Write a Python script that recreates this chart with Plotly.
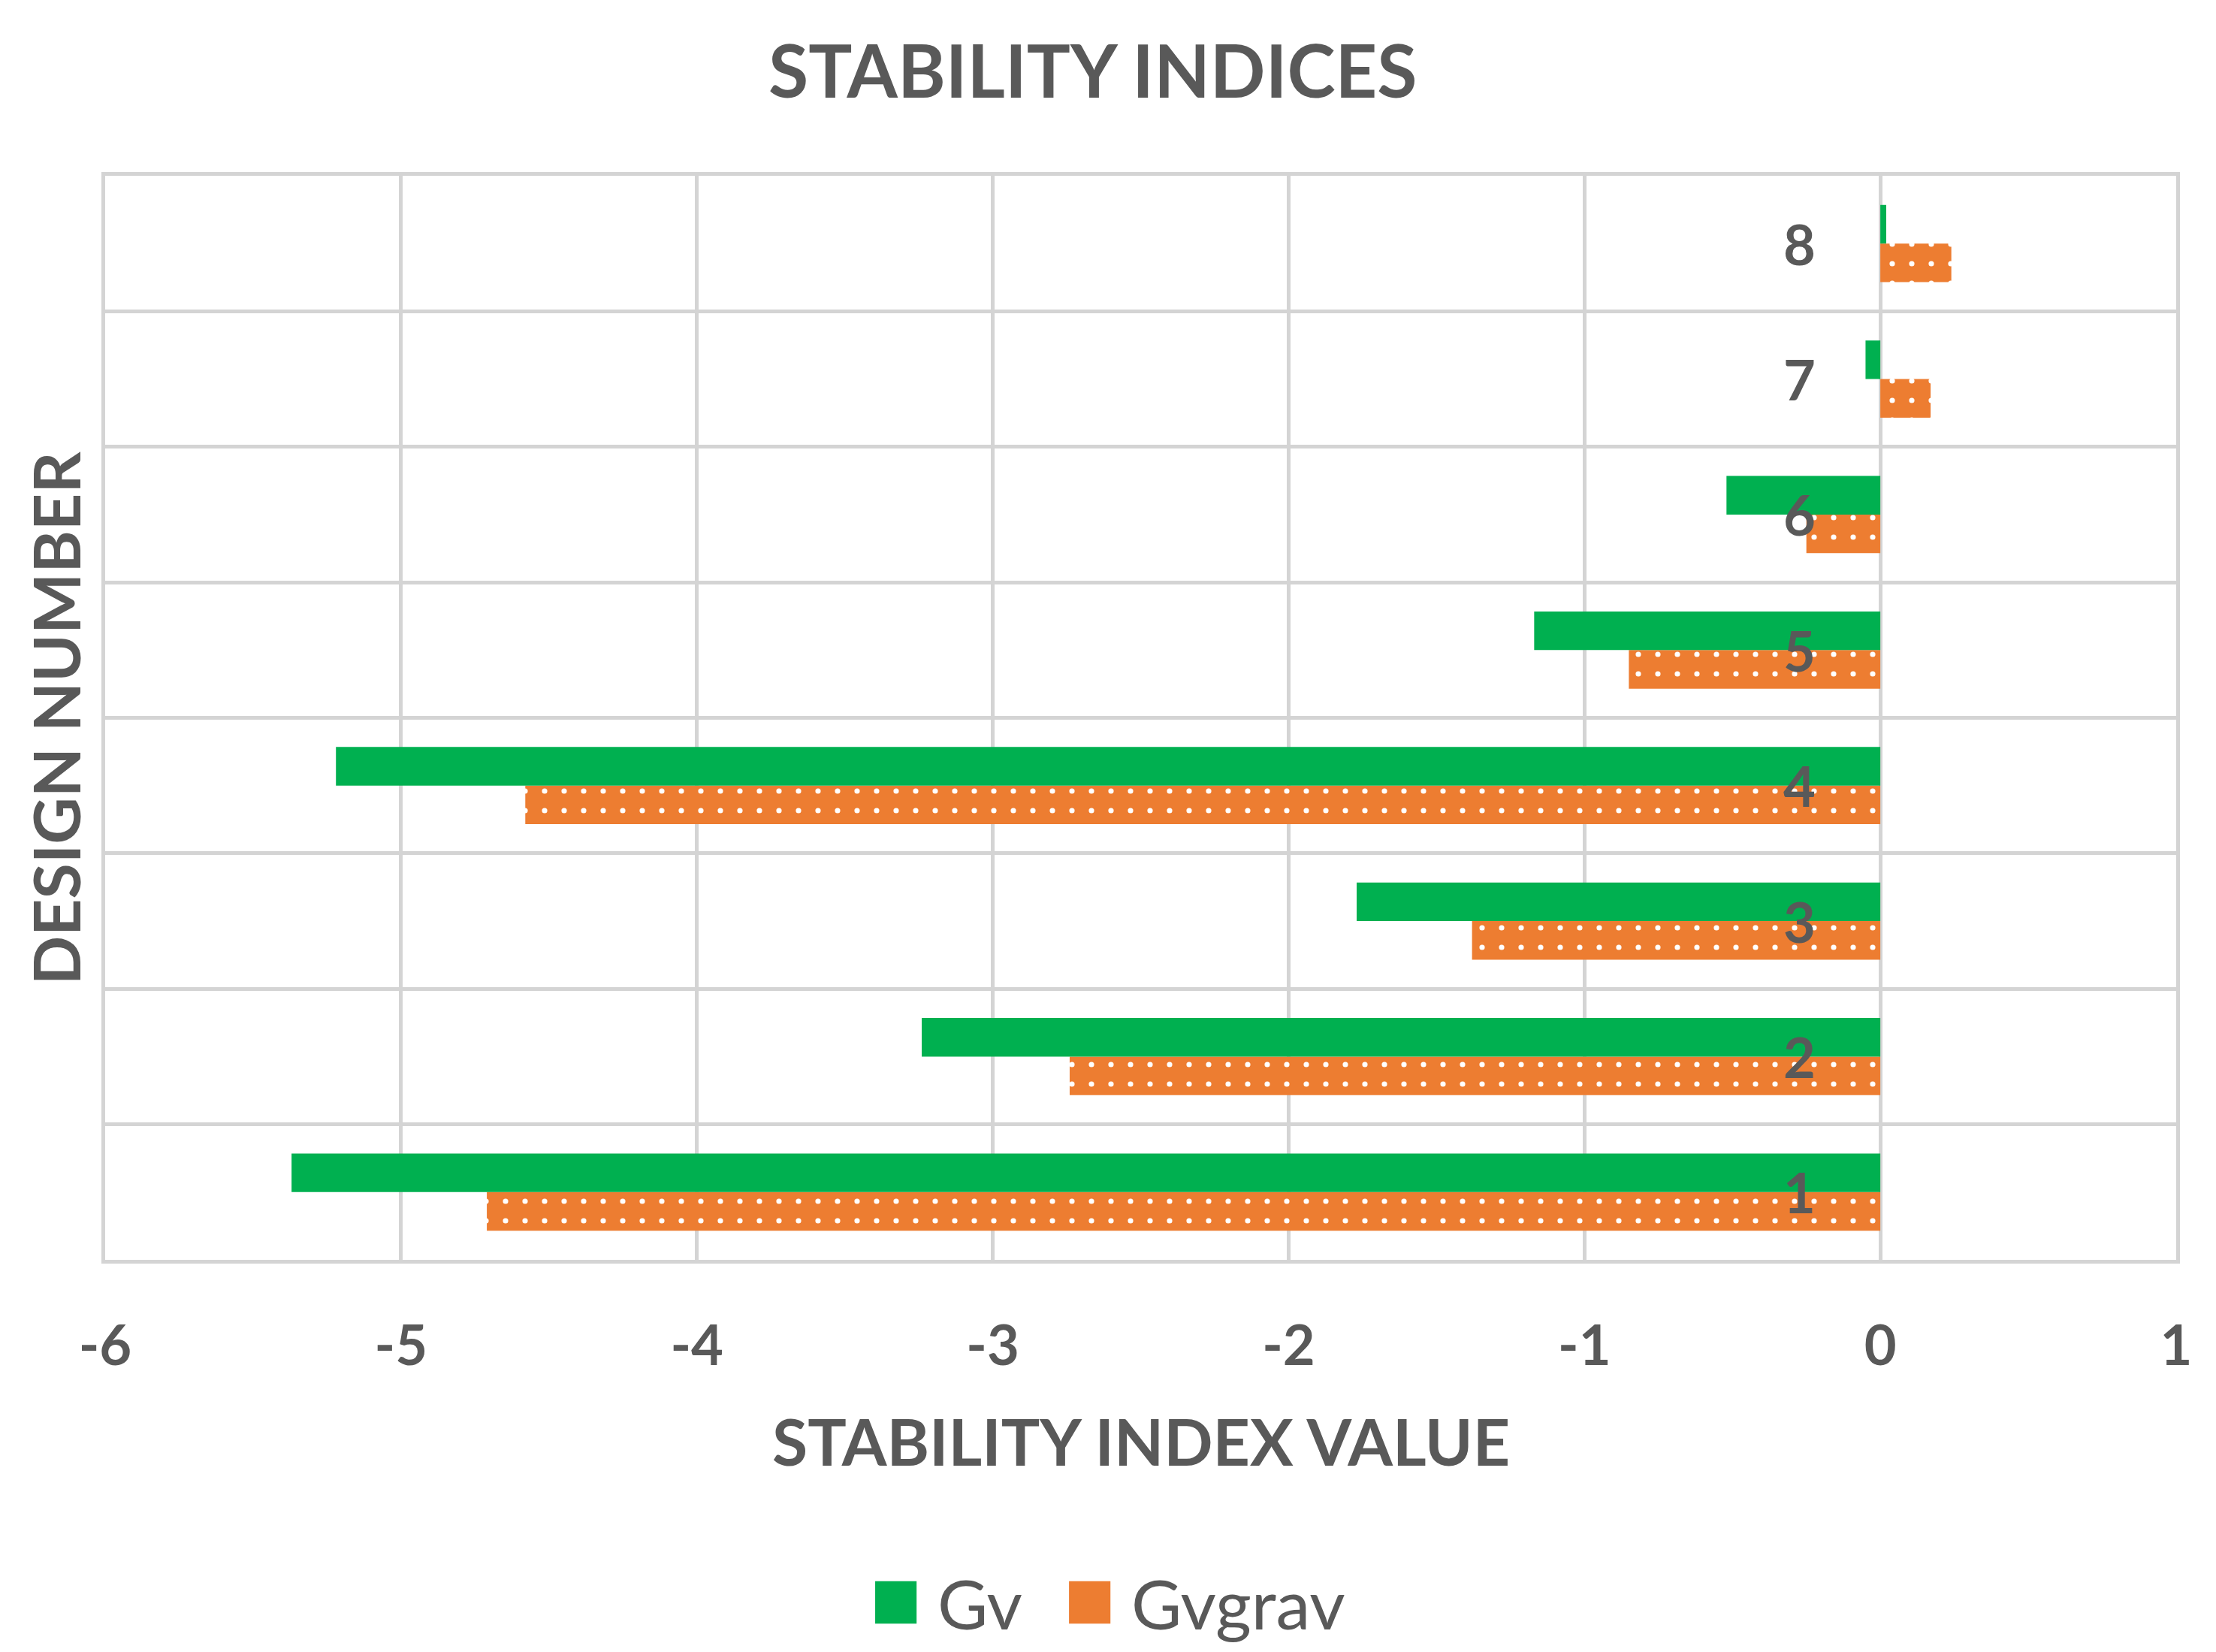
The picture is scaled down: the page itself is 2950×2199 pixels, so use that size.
import plotly.graph_objects as go

designs = [1, 2, 3, 4, 5, 6, 7, 8]
design_labels = ["1", "2", "3", "4", "5", "6", "7", "8"]
gv = [-5.37, -3.24, -1.77, -5.22, -1.17, -0.52, -0.05, 0.02]
gvgrav = [-4.71, -2.74, -1.38, -4.58, -0.85, -0.25, 0.17, 0.24]
x_ticks = [-6, -5, -4, -3, -2, -1, 0, 1]
series_names = ["Gv", "Gvgrav"]
series_colors = ["#00B050", "#ED7D31"]

TXT = "#595959"
GRID = "#D4D4D4"
FONT = "Lato"

fig = go.Figure()
fig.add_trace(go.Bar(
    y=designs, x=gvgrav, orientation="h", name=series_names[1], showlegend=False,
    marker=dict(color=series_colors[1], line=dict(width=0),
                pattern=dict(shape=".", bgcolor=series_colors[1], fgcolor="white",
                             size=26, solidity=0.06, fillmode="replace")),
))
fig.add_trace(go.Bar(
    y=designs, x=gv, orientation="h", name=series_names[0], showlegend=False,
    marker=dict(color=series_colors[0], line=dict(width=0)),
))

for d, lab in zip(designs, design_labels):
    fig.add_annotation(x=0, y=d, xref="x", yref="y", text=lab, showarrow=False,
                       xanchor="right", yanchor="middle", xshift=-84,
                       font=dict(family=FONT, size=74, color=TXT, weight="bold"))

fig.add_annotation(text="STABILITY INDICES", xref="paper", yref="paper",
                   x=0.477, y=1.098, showarrow=False, xanchor="center", yanchor="middle",
                   font=dict(family=FONT, size=97, color=TXT, weight="bold"))
fig.add_annotation(text="STABILITY INDEX VALUE", xref="paper", yref="paper",
                   x=0.5, y=-0.167, showarrow=False, xanchor="center", yanchor="middle",
                   font=dict(family=FONT, size=86, color=TXT, weight="bold"))
fig.add_annotation(text="DESIGN NUMBER", xref="paper", yref="paper",
                   x=-0.024, y=0.5, showarrow=False, xanchor="center", yanchor="middle",
                   textangle=-90,
                   font=dict(family=FONT, size=86, color=TXT, weight="bold"))

# custom legend (swatch + label)
legend_x = [0.3718, 0.4654]
swatch_w = 0.0200
for i, (nm, col) in enumerate(zip(series_names, series_colors)):
    fig.add_shape(type="rect", xref="paper", yref="paper",
                  x0=legend_x[i], x1=legend_x[i] + swatch_w, y0=-0.3355, y1=-0.2965,
                  fillcolor=col, line=dict(width=0))
    fig.add_annotation(text=nm, xref="paper", yref="paper",
                       x=legend_x[i] + swatch_w + 0.0095, y=-0.3165, showarrow=False,
                       xanchor="left", yanchor="middle",
                       font=dict(family=FONT, size=92, color=TXT))

fig.update_layout(
    width=2950, height=2199,
    paper_bgcolor="white", plot_bgcolor="white",
    margin=dict(l=132, r=61, t=226, b=530),
    barmode="group", bargap=0.43, bargroupgap=0,
    showlegend=False,
    xaxis=dict(range=[-6, 1], tickvals=x_ticks, ticktext=[str(t) for t in x_ticks],
               showgrid=True, gridcolor=GRID, gridwidth=5, zeroline=False,
               showline=True, linecolor=GRID, linewidth=5, mirror=True,
               ticks="", ticklabelstandoff=46,
               tickfont=dict(family=FONT, size=74, color=TXT, weight="bold")),
    yaxis=dict(range=[0.5, 8.5], tickvals=[0.5 + i for i in range(9)],
               showticklabels=False, showgrid=True, gridcolor=GRID, gridwidth=5,
               zeroline=False, showline=True, linecolor=GRID, linewidth=5, mirror=True,
               ticks=""),
)

fig.write_html("out.html")
